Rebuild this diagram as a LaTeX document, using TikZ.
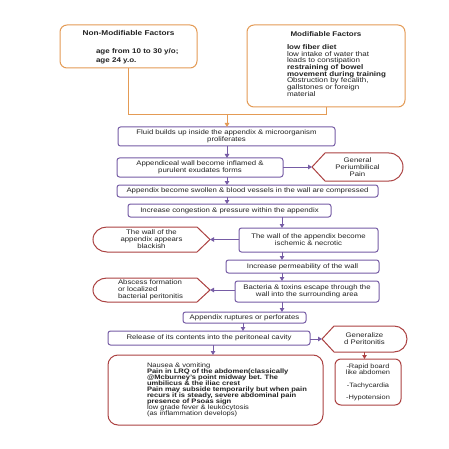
\documentclass[tikz,border=0pt]{standalone}
\usepackage{fontspec}
\setmainfont{Liberation Sans}[FakeStretch=1.18]
\usetikzlibrary{arrows.meta}
\definecolor{org}{RGB}{228,155,85}
\definecolor{pur}{RGB}{118,92,165}
\definecolor{rd}{RGB}{172,66,66}
\definecolor{txt}{RGB}{35,35,35}
\begin{document}
\begin{tikzpicture}[x=1pt,y=-1pt,
  every node/.style={inner sep=0pt,outer sep=0pt,text=txt,font=\fontsize{6.6}{7}\selectfont},
  obox/.style={draw=org,line width=1pt,rounded corners=7pt},
  pbox/.style={draw=pur,line width=1pt,rounded corners=2.5pt,align=center},
  rline/.style={draw=rd,line width=1pt},
  rbox/.style={draw=rd,line width=1pt},
  hexb/.style={align=center},
  parr/.style={draw=pur,line width=1pt,-{Triangle[length=4pt,width=4.5pt]}},
  oarr/.style={draw=org,line width=1pt,-{Triangle[length=4pt,width=4.5pt]}},
  oline/.style={draw=org,line width=1pt}]
\useasboundingbox[fill=white] (0,0) rectangle (449,449);

% column coordinates
\coordinate (c1) at (227,0);
\coordinate (c2) at (282,0);
\coordinate (c3) at (243,0);
\coordinate (c4) at (213,0);

% top factor boxes
\node[obox,minimum width=137pt,minimum height=43pt] (nonmod) at (128.5,46.5) {};
\node[font=\bfseries\fontsize{7}{7}\selectfont] (nmt) at (128.5,33) {Non-Modifiable Factors};
\node[anchor=north west,align=left,font=\bfseries\fontsize{6.8}{9}\selectfont] (nmi) at (96,49) {age from 10 to 30 y/o;\\age 24 y.o.};

\node[obox,minimum width=158pt,minimum height=82pt] (mod) at (326,66) {};
\node[font=\bfseries\fontsize{6.8}{7}\selectfont] (mt) at (326,34) {Modifiable Factors};
\node[anchor=north west,align=left,font=\fontsize{6.8}{6.7}\selectfont] (mi) at (287,44.5) {\textbf{low fiber diet}\\low intake of water that\\leads to constipation\\\textbf{restraining of bowel}\\\textbf{movement during training}\\Obstruction by fecalith,\\gallstones or foreign\\material};

\coordinate (j1) at (128.5,115);
\coordinate (j2) at (326,115);
\coordinate (jm) at (227,115);
\draw[oline] (nonmod.south) -- (j1) -- (j2) -- (mod.south);

% purple process boxes
\node[pbox,minimum width=217pt,minimum height=19pt] (fluid) at (226.5,136.5) {Fluid builds up inside the appendix \& microorganism\\proliferates};
\node[pbox,minimum width=166pt,minimum height=19pt] (append) at (200,167.5) {Appendiceal wall become inflamed \&\\purulent exudates forms};
\node[pbox,minimum width=261pt,minimum height=12pt] (swollen) at (247.5,191) {Appendix become swollen \& blood vessels in the wall are compressed};
\node[pbox,minimum width=203pt,minimum height=13pt] (cong) at (229.5,210.5) {Increase congestion \& pressure within the appendix};
\node[pbox,minimum width=139pt,minimum height=24pt] (isch) at (308.5,240) {The wall of the appendix become\\ischemic \& necrotic};
\node[pbox,minimum width=153pt,minimum height=13pt] (perm) at (302.5,266.5) {Increase permeability of the wall};
\node[pbox,minimum width=144pt,minimum height=21pt] (bact) at (307,291.5) {Bacteria \& toxins escape through the\\wall into the surrounding area};
\node[pbox,minimum width=123pt,minimum height=11pt] (rupt) at (244.5,317.5) {Appendix ruptures or perforates};
\node[pbox,minimum width=202pt,minimum height=14pt] (rel) at (209,338) {Release of its contents into the peritoneal cavity};

% red shapes
\node[hexb,minimum width=91pt,minimum height=28pt] (gpp) at (357.5,167) {General\\Periumbilical\\Pain};
\draw[rline] (gpp.west) -- ([xshift=13pt]gpp.north west) -- ([xshift=-14pt]gpp.north east)
  to[out=0,in=90] (gpp.east) to[out=-90,in=0] ([xshift=-14pt]gpp.south east)
  -- ([xshift=13pt]gpp.south west) -- cycle;

\node[hexb,minimum width=117pt,minimum height=25pt] (black) at (151.5,239.5) {The wall of the\\appendix appears\\blackish};
\draw[rline] (black.east) -- ([xshift=-13pt]black.north east) -- ([xshift=14pt]black.north west)
  to[out=180,in=90] (black.west) to[out=-90,in=180] ([xshift=14pt]black.south west)
  -- ([xshift=-13pt]black.south east) -- cycle;

\node[minimum width=117pt,minimum height=24pt] (absc) at (151.5,290) {};
\node[anchor=west,align=left] (absct) at (118,289.5) {Abscess formation\\or localized\\bacterial peritonitis};
\draw[rline] (absc.east) -- ([xshift=-13pt]absc.north east) -- ([xshift=14pt]absc.north west)
  to[out=180,in=90] (absc.west) to[out=-90,in=180] ([xshift=14pt]absc.south west)
  -- ([xshift=-13pt]absc.south east) -- cycle;

\node[hexb,minimum width=85pt,minimum height=26pt] (gen) at (364.5,339) {Generalize\\d Peritonitis};
\draw[rline] (gen.west) -- ([xshift=12pt]gen.north west) -- ([xshift=-13pt]gen.north east)
  to[out=0,in=90] (gen.east) to[out=-90,in=0] ([xshift=-13pt]gen.south east)
  -- ([xshift=12pt]gen.south west) -- cycle;

\node[rbox,rounded corners=10pt,minimum width=215pt,minimum height=70pt] (big) at (215.5,390) {};
\node[anchor=north west,align=left,font=\fontsize{6.4}{6.05}\selectfont] (bigt) at (147,362.8) {Nausea \& vomiting\\
\textbf{Pain in LRQ of the abdomen(classically}\\
\textbf{@Mcburney's point midway bet. The}\\
\textbf{umbilicus \& the iliac crest}\\
\textbf{Pain may subside temporarily but when pain}\\
\textbf{recurs it is steady, severe abdominal pain}\\
\textbf{presence of Psoas sign}\\
low grade fever \& leukocytosis\\
(as inflammation develops)};

\node[rbox,rounded corners=6pt,minimum width=66pt,minimum height=46pt] (small) at (368,382) {};
\node[align=center,anchor=north,font=\fontsize{6.3}{6.5}\selectfont] (smallt) at (368,363.5) {-Rapid board\\like abdomen\\[6pt]-Tachycardia\\[5.5pt]-Hypotension};

% connectors
\draw[oarr] (jm) -- (fluid.north -| jm);
\draw[parr] (fluid.south -| c1) -- (append.north -| c1);
\draw[parr] (append.south -| c1) -- (swollen.north -| c1);
\draw[parr] (swollen.south -| c1) -- (cong.north -| c1);
\draw[parr] (cong.south -| c2) -- (isch.north -| c2);
\draw[parr] (isch.south -| c2) -- (perm.north -| c2);
\draw[parr] (perm.south -| c2) -- (bact.north -| c2);
\draw[parr] (bact.south -| c2) -- (rupt.north -| c2);
\draw[parr] (rupt.south -| c3) -- (rel.north -| c3);
\draw[parr] (rel.south -| c4) -- (big.north -| c4);
\draw[parr] (gpp.west -| append.east) -- (gpp.west);
\draw[parr] (black.east -| isch.west) -- (black.east);
\draw[parr] (absc.east -| bact.west) -- (absc.east);
\draw[parr] (gen.west -| rel.east) -- (gen.west);
\draw[draw=rd,line width=1pt,-{Triangle[length=4pt,width=4.5pt]}] (gen.south) -- (small.north -| gen.south);
\end{tikzpicture}
\end{document}
